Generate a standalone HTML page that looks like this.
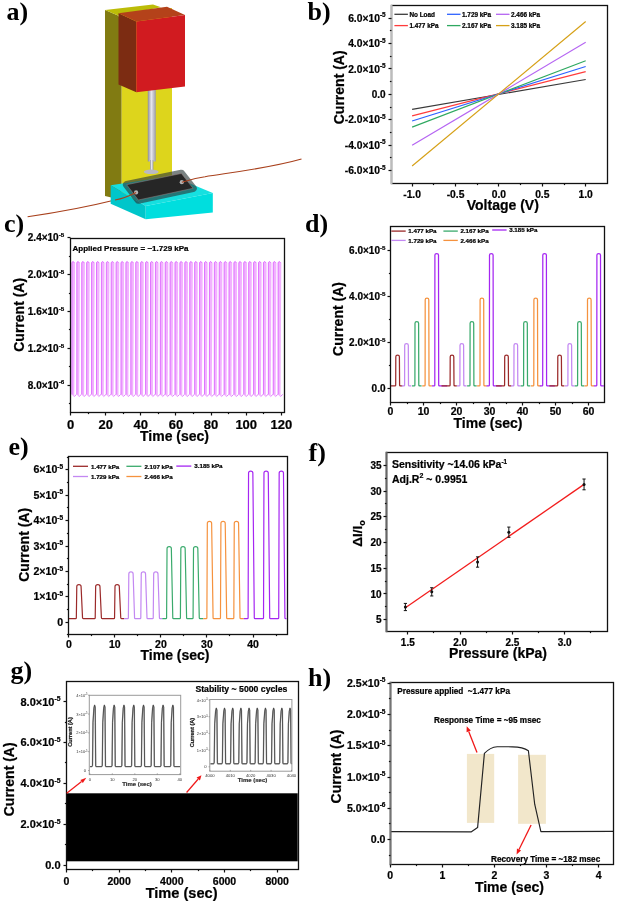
<!DOCTYPE html><html><head><meta charset="utf-8"><title>Figure</title><style>html,body{margin:0;padding:0;background:#fff;}svg{display:block;} text{stroke:currentColor;stroke-width:0.22px;paint-order:stroke;} text.nost{stroke:none;}</style></head><body>
<svg width="617" height="903" viewBox="0 0 617 903">
<rect width="617" height="903" fill="#fff"/>
<text x="6.5" y="20.1" font-size="26" text-anchor="start" font-weight="bold" font-family="'Liberation Serif', 'Times New Roman', serif" fill="#000" color="#000" class="nost">a)</text>
<path d="M27.6,216.8 C60,212 95,205 115,200" fill="none" stroke="#a8401c" stroke-width="1.1"/>
<polygon points="105,10 118,15.6 121.7,20 121.7,200 105,196" fill="#817b12"/>
<polygon points="118,15.6 172,8 172,200 121.7,200 121.7,20" fill="#ddd51c"/>
<polygon points="105,10 153,4.4 161,7.3 118,15.6" fill="#bcbc08"/>
<defs><linearGradient id="rod" x1="0" x2="1" y1="0" y2="0"><stop offset="0" stop-color="#8c8c96"/><stop offset="0.45" stop-color="#e6e6ee"/><stop offset="1" stop-color="#9a9aa4"/></linearGradient></defs>
<rect x="147.8" y="88" width="8" height="73.5" fill="url(#rod)"/>
<rect x="150" y="160" width="3.4" height="11" fill="url(#rod)"/>
<ellipse cx="151.2" cy="171.8" rx="7.4" ry="2.3" fill="#b9b9c2"/>
<polygon points="118.5,13.3 136.3,21.4 136.3,92.2 118.5,84.6" fill="#7c2c12"/>
<polygon points="118.5,13.3 167,6.8 185,14.9 136.3,21.4" fill="#b4421a"/>
<polygon points="136.3,21.4 185,14.9 185,86.5 136.3,92.2" fill="#d11b20"/>
<polygon points="110.7,185.3 172,176 212.8,193 145.7,206" fill="#16e0e0"/>
<polygon points="110.7,185.3 145.7,206 145.7,219.3 110.7,203.8" fill="#00c6ca"/>
<polygon points="145.7,206 212.8,193 212.8,212.5 145.7,219.3" fill="#00dede"/>
<polygon points="126.7,184.7 181.4,173.5 193,188.3 138.3,200" fill="#2c3838" stroke="#2c3838" stroke-width="7.5" stroke-linejoin="round" opacity="0.62"/>
<polygon points="126.7,184.7 181.4,173.5 193,188.3 138.3,200" fill="#262626" stroke="#9a8080" stroke-width="0.5"/>
<circle cx="136.1" cy="192.4" r="2.1" fill="#b4b4b4"/>
<circle cx="181.8" cy="182.2" r="2.1" fill="#b4b4b4"/>
<path d="M136.1,192.4 C131,195 125,198 115,200" fill="none" stroke="#a8401c" stroke-width="1.1"/>
<path d="M181.8,182.2 C188,180 195,178 205,176.7 C235,172 270,168 301.5,159" fill="none" stroke="#a8401c" stroke-width="1.1"/>
<text x="307.5" y="20.2" font-size="26" text-anchor="start" font-weight="bold" font-family="'Liberation Serif', 'Times New Roman', serif" fill="#000" color="#000" class="nost">b)</text>
<line x1="412.1" y1="109.32" x2="585.7" y2="79.5" stroke="#3a3a3a" stroke-width="1.15" />
<line x1="412.1" y1="115.92" x2="585.7" y2="71.63" stroke="#ff3b3b" stroke-width="1.15" />
<line x1="412.1" y1="121" x2="585.7" y2="66.56" stroke="#2e62ff" stroke-width="1.15" />
<line x1="412.1" y1="127.09" x2="585.7" y2="60.72" stroke="#2ea860" stroke-width="1.15" />
<line x1="412.1" y1="145.36" x2="585.7" y2="42.32" stroke="#b565f2" stroke-width="1.15" />
<line x1="412.1" y1="166.05" x2="585.7" y2="21.51" stroke="#d6a016" stroke-width="1.15" />
<rect x="391.5" y="5.5" width="216" height="178" fill="none" stroke="#111" stroke-width="1.3"/>
<line x1="391.5" y1="4.8" x2="391.5" y2="184.2" stroke="#bcbcbc" stroke-width="2" />
<line x1="388.5" y1="170.5" x2="391.5" y2="170.5" stroke="#111" stroke-width="1.2" />
<line x1="388.5" y1="145.5" x2="391.5" y2="145.5" stroke="#111" stroke-width="1.2" />
<line x1="388.5" y1="119.5" x2="391.5" y2="119.5" stroke="#111" stroke-width="1.2" />
<line x1="388.5" y1="94.5" x2="391.5" y2="94.5" stroke="#111" stroke-width="1.2" />
<line x1="388.5" y1="68.5" x2="391.5" y2="68.5" stroke="#111" stroke-width="1.2" />
<line x1="388.5" y1="43.5" x2="391.5" y2="43.5" stroke="#111" stroke-width="1.2" />
<line x1="388.5" y1="18.5" x2="391.5" y2="18.5" stroke="#111" stroke-width="1.2" />
<line x1="389.9" y1="157.5" x2="391.5" y2="157.5" stroke="#111" stroke-width="1.2" />
<line x1="389.9" y1="132.5" x2="391.5" y2="132.5" stroke="#111" stroke-width="1.2" />
<line x1="389.9" y1="107.5" x2="391.5" y2="107.5" stroke="#111" stroke-width="1.2" />
<line x1="389.9" y1="81.5" x2="391.5" y2="81.5" stroke="#111" stroke-width="1.2" />
<line x1="389.9" y1="56.5" x2="391.5" y2="56.5" stroke="#111" stroke-width="1.2" />
<line x1="389.9" y1="30.5" x2="391.5" y2="30.5" stroke="#111" stroke-width="1.2" />
<line x1="412.5" y1="183.5" x2="412.5" y2="186.5" stroke="#111" stroke-width="1.2" />
<line x1="455.5" y1="183.5" x2="455.5" y2="186.5" stroke="#111" stroke-width="1.2" />
<line x1="498.5" y1="183.5" x2="498.5" y2="186.5" stroke="#111" stroke-width="1.2" />
<line x1="542.5" y1="183.5" x2="542.5" y2="186.5" stroke="#111" stroke-width="1.2" />
<line x1="585.5" y1="183.5" x2="585.5" y2="186.5" stroke="#111" stroke-width="1.2" />
<line x1="433.5" y1="183.5" x2="433.5" y2="185.1" stroke="#111" stroke-width="1.2" />
<line x1="477.5" y1="183.5" x2="477.5" y2="185.1" stroke="#111" stroke-width="1.2" />
<line x1="520.5" y1="183.5" x2="520.5" y2="185.1" stroke="#111" stroke-width="1.2" />
<line x1="564.5" y1="183.5" x2="564.5" y2="185.1" stroke="#111" stroke-width="1.2" />
<text x="385.6" y="21.81" font-size="10.3" text-anchor="end" font-weight="bold" font-family="'Liberation Sans', Arial, sans-serif" fill="#000" color="#000">6.0×10<tspan dy="-4.33" font-size="6.39">-5</tspan></text>
<text x="385.6" y="174.09" font-size="10.3" text-anchor="end" font-weight="bold" font-family="'Liberation Sans', Arial, sans-serif" fill="#000" color="#000">-6.0×10<tspan dy="-4.33" font-size="6.39">-5</tspan></text>
<text x="385.6" y="47.19" font-size="10.3" text-anchor="end" font-weight="bold" font-family="'Liberation Sans', Arial, sans-serif" fill="#000" color="#000">4.0×10<tspan dy="-4.33" font-size="6.39">-5</tspan></text>
<text x="385.6" y="148.71" font-size="10.3" text-anchor="end" font-weight="bold" font-family="'Liberation Sans', Arial, sans-serif" fill="#000" color="#000">-4.0×10<tspan dy="-4.33" font-size="6.39">-5</tspan></text>
<text x="385.6" y="72.57" font-size="10.3" text-anchor="end" font-weight="bold" font-family="'Liberation Sans', Arial, sans-serif" fill="#000" color="#000">2.0×10<tspan dy="-4.33" font-size="6.39">-5</tspan></text>
<text x="385.6" y="123.33" font-size="10.3" text-anchor="end" font-weight="bold" font-family="'Liberation Sans', Arial, sans-serif" fill="#000" color="#000">-2.0×10<tspan dy="-4.33" font-size="6.39">-5</tspan></text>
<text x="385.6" y="97.95" font-size="10" text-anchor="end" font-weight="bold" font-family="'Liberation Sans', Arial, sans-serif" fill="#000" color="#000" >0.0</text>
<text x="412.1" y="198" font-size="10.3" text-anchor="middle" font-weight="bold" font-family="'Liberation Sans', Arial, sans-serif" fill="#000" color="#000" >-1.0</text>
<text x="455.5" y="198" font-size="10.3" text-anchor="middle" font-weight="bold" font-family="'Liberation Sans', Arial, sans-serif" fill="#000" color="#000" >-0.5</text>
<text x="498.9" y="198" font-size="10.3" text-anchor="middle" font-weight="bold" font-family="'Liberation Sans', Arial, sans-serif" fill="#000" color="#000" >0.0</text>
<text x="542.3" y="198" font-size="10.3" text-anchor="middle" font-weight="bold" font-family="'Liberation Sans', Arial, sans-serif" fill="#000" color="#000" >0.5</text>
<text x="585.7" y="198" font-size="10.3" text-anchor="middle" font-weight="bold" font-family="'Liberation Sans', Arial, sans-serif" fill="#000" color="#000" >1.0</text>
<text x="502.8" y="210.3" font-size="14" text-anchor="middle" font-weight="bold" font-family="'Liberation Sans', Arial, sans-serif" fill="#000" color="#000" >Voltage (V)</text>
<text x="0" y="0" font-size="14" text-anchor="middle" font-weight="bold" font-family="'Liberation Sans', Arial, sans-serif" transform="translate(344.3,87.3) rotate(-90)" >Current (A)</text>
<line x1="394.4" y1="14.3" x2="407.9" y2="14.3" stroke="#3a3a3a" stroke-width="1.3" />
<text x="409.4" y="16.6" font-size="6.4" text-anchor="start" font-weight="bold" font-family="'Liberation Sans', Arial, sans-serif" fill="#000" color="#000" >No Load</text>
<line x1="447" y1="14.3" x2="460.5" y2="14.3" stroke="#2e62ff" stroke-width="1.3" />
<text x="462" y="16.6" font-size="6.4" text-anchor="start" font-weight="bold" font-family="'Liberation Sans', Arial, sans-serif" fill="#000" color="#000" >1.729 kPa</text>
<line x1="496" y1="14.3" x2="509.5" y2="14.3" stroke="#b565f2" stroke-width="1.3" />
<text x="511" y="16.6" font-size="6.4" text-anchor="start" font-weight="bold" font-family="'Liberation Sans', Arial, sans-serif" fill="#000" color="#000" >2.466 kPa</text>
<line x1="394.4" y1="25.6" x2="407.9" y2="25.6" stroke="#ff3b3b" stroke-width="1.3" />
<text x="409.4" y="27.9" font-size="6.4" text-anchor="start" font-weight="bold" font-family="'Liberation Sans', Arial, sans-serif" fill="#000" color="#000" >1.477 kPa</text>
<line x1="447" y1="25.6" x2="460.5" y2="25.6" stroke="#2ea860" stroke-width="1.3" />
<text x="462" y="27.9" font-size="6.4" text-anchor="start" font-weight="bold" font-family="'Liberation Sans', Arial, sans-serif" fill="#000" color="#000" >2.167 kPa</text>
<line x1="496" y1="25.6" x2="509.5" y2="25.6" stroke="#d6a016" stroke-width="1.3" />
<text x="511" y="27.9" font-size="6.4" text-anchor="start" font-weight="bold" font-family="'Liberation Sans', Arial, sans-serif" fill="#000" color="#000" >3.185 kPa</text>
<text x="4" y="231.8" font-size="26" text-anchor="start" font-weight="bold" font-family="'Liberation Serif', 'Times New Roman', serif" fill="#000" color="#000" class="nost">c)</text>
<polygon points="71.6,394.4 71.6,262.5 73.2,261.2 75.1,262.7 74.3,396.9" fill="#f2b2ff"/>
<polyline points="71.95,394.4 71.95,262.5 73.2,261.5 74.2,262.8" fill="none" stroke="#de6cff" stroke-width="0.9"/>
<polyline points="74.3,396.5 76.51,394.4" fill="none" stroke="#de6cff" stroke-width="0.9"/>
<polygon points="76.51,394.4 76.51,262.5 78.11,261.2 80.01,262.7 79.21,396.9" fill="#f2b2ff"/>
<polyline points="76.86,394.4 76.86,262.5 78.11,261.5 79.11,262.8" fill="none" stroke="#de6cff" stroke-width="0.9"/>
<polyline points="79.21,396.5 81.42,394.4" fill="none" stroke="#de6cff" stroke-width="0.9"/>
<polygon points="81.42,394.4 81.42,262.5 83.02,261.2 84.92,262.7 84.12,396.9" fill="#f2b2ff"/>
<polyline points="81.77,394.4 81.77,262.5 83.02,261.5 84.02,262.8" fill="none" stroke="#de6cff" stroke-width="0.9"/>
<polyline points="84.12,396.5 86.33,394.4" fill="none" stroke="#de6cff" stroke-width="0.9"/>
<polygon points="86.33,394.4 86.33,262.5 87.93,261.2 89.83,262.7 89.03,396.9" fill="#f2b2ff"/>
<polyline points="86.68,394.4 86.68,262.5 87.93,261.5 88.93,262.8" fill="none" stroke="#de6cff" stroke-width="0.9"/>
<polyline points="89.03,396.5 91.24,394.4" fill="none" stroke="#de6cff" stroke-width="0.9"/>
<polygon points="91.24,394.4 91.24,262.5 92.84,261.2 94.74,262.7 93.94,396.9" fill="#f2b2ff"/>
<polyline points="91.59,394.4 91.59,262.5 92.84,261.5 93.84,262.8" fill="none" stroke="#de6cff" stroke-width="0.9"/>
<polyline points="93.94,396.5 96.15,394.4" fill="none" stroke="#de6cff" stroke-width="0.9"/>
<polygon points="96.15,394.4 96.15,262.5 97.75,261.2 99.65,262.7 98.85,396.9" fill="#f2b2ff"/>
<polyline points="96.5,394.4 96.5,262.5 97.75,261.5 98.75,262.8" fill="none" stroke="#de6cff" stroke-width="0.9"/>
<polyline points="98.85,396.5 101.06,394.4" fill="none" stroke="#de6cff" stroke-width="0.9"/>
<polygon points="101.06,394.4 101.06,262.5 102.66,261.2 104.56,262.7 103.76,396.9" fill="#f2b2ff"/>
<polyline points="101.41,394.4 101.41,262.5 102.66,261.5 103.66,262.8" fill="none" stroke="#de6cff" stroke-width="0.9"/>
<polyline points="103.76,396.5 105.97,394.4" fill="none" stroke="#de6cff" stroke-width="0.9"/>
<polygon points="105.97,394.4 105.97,262.5 107.57,261.2 109.47,262.7 108.67,396.9" fill="#f2b2ff"/>
<polyline points="106.32,394.4 106.32,262.5 107.57,261.5 108.57,262.8" fill="none" stroke="#de6cff" stroke-width="0.9"/>
<polyline points="108.67,396.5 110.88,394.4" fill="none" stroke="#de6cff" stroke-width="0.9"/>
<polygon points="110.88,394.4 110.88,262.5 112.48,261.2 114.38,262.7 113.58,396.9" fill="#f2b2ff"/>
<polyline points="111.23,394.4 111.23,262.5 112.48,261.5 113.48,262.8" fill="none" stroke="#de6cff" stroke-width="0.9"/>
<polyline points="113.58,396.5 115.79,394.4" fill="none" stroke="#de6cff" stroke-width="0.9"/>
<polygon points="115.79,394.4 115.79,262.5 117.39,261.2 119.29,262.7 118.49,396.9" fill="#f2b2ff"/>
<polyline points="116.14,394.4 116.14,262.5 117.39,261.5 118.39,262.8" fill="none" stroke="#de6cff" stroke-width="0.9"/>
<polyline points="118.49,396.5 120.7,394.4" fill="none" stroke="#de6cff" stroke-width="0.9"/>
<polygon points="120.7,394.4 120.7,262.5 122.3,261.2 124.2,262.7 123.4,396.9" fill="#f2b2ff"/>
<polyline points="121.05,394.4 121.05,262.5 122.3,261.5 123.3,262.8" fill="none" stroke="#de6cff" stroke-width="0.9"/>
<polyline points="123.4,396.5 125.61,394.4" fill="none" stroke="#de6cff" stroke-width="0.9"/>
<polygon points="125.61,394.4 125.61,262.5 127.21,261.2 129.11,262.7 128.31,396.9" fill="#f2b2ff"/>
<polyline points="125.96,394.4 125.96,262.5 127.21,261.5 128.21,262.8" fill="none" stroke="#de6cff" stroke-width="0.9"/>
<polyline points="128.31,396.5 130.52,394.4" fill="none" stroke="#de6cff" stroke-width="0.9"/>
<polygon points="130.52,394.4 130.52,262.5 132.12,261.2 134.02,262.7 133.22,396.9" fill="#f2b2ff"/>
<polyline points="130.87,394.4 130.87,262.5 132.12,261.5 133.12,262.8" fill="none" stroke="#de6cff" stroke-width="0.9"/>
<polyline points="133.22,396.5 135.43,394.4" fill="none" stroke="#de6cff" stroke-width="0.9"/>
<polygon points="135.43,394.4 135.43,262.5 137.03,261.2 138.93,262.7 138.13,396.9" fill="#f2b2ff"/>
<polyline points="135.78,394.4 135.78,262.5 137.03,261.5 138.03,262.8" fill="none" stroke="#de6cff" stroke-width="0.9"/>
<polyline points="138.13,396.5 140.34,394.4" fill="none" stroke="#de6cff" stroke-width="0.9"/>
<polygon points="140.34,394.4 140.34,262.5 141.94,261.2 143.84,262.7 143.04,396.9" fill="#f2b2ff"/>
<polyline points="140.69,394.4 140.69,262.5 141.94,261.5 142.94,262.8" fill="none" stroke="#de6cff" stroke-width="0.9"/>
<polyline points="143.04,396.5 145.25,394.4" fill="none" stroke="#de6cff" stroke-width="0.9"/>
<polygon points="145.25,394.4 145.25,262.5 146.85,261.2 148.75,262.7 147.95,396.9" fill="#f2b2ff"/>
<polyline points="145.6,394.4 145.6,262.5 146.85,261.5 147.85,262.8" fill="none" stroke="#de6cff" stroke-width="0.9"/>
<polyline points="147.95,396.5 150.16,394.4" fill="none" stroke="#de6cff" stroke-width="0.9"/>
<polygon points="150.16,394.4 150.16,262.5 151.76,261.2 153.66,262.7 152.86,396.9" fill="#f2b2ff"/>
<polyline points="150.51,394.4 150.51,262.5 151.76,261.5 152.76,262.8" fill="none" stroke="#de6cff" stroke-width="0.9"/>
<polyline points="152.86,396.5 155.07,394.4" fill="none" stroke="#de6cff" stroke-width="0.9"/>
<polygon points="155.07,394.4 155.07,262.5 156.67,261.2 158.57,262.7 157.77,396.9" fill="#f2b2ff"/>
<polyline points="155.42,394.4 155.42,262.5 156.67,261.5 157.67,262.8" fill="none" stroke="#de6cff" stroke-width="0.9"/>
<polyline points="157.77,396.5 159.98,394.4" fill="none" stroke="#de6cff" stroke-width="0.9"/>
<polygon points="159.98,394.4 159.98,262.5 161.58,261.2 163.48,262.7 162.68,396.9" fill="#f2b2ff"/>
<polyline points="160.33,394.4 160.33,262.5 161.58,261.5 162.58,262.8" fill="none" stroke="#de6cff" stroke-width="0.9"/>
<polyline points="162.68,396.5 164.89,394.4" fill="none" stroke="#de6cff" stroke-width="0.9"/>
<polygon points="164.89,394.4 164.89,262.5 166.49,261.2 168.39,262.7 167.59,396.9" fill="#f2b2ff"/>
<polyline points="165.24,394.4 165.24,262.5 166.49,261.5 167.49,262.8" fill="none" stroke="#de6cff" stroke-width="0.9"/>
<polyline points="167.59,396.5 169.8,394.4" fill="none" stroke="#de6cff" stroke-width="0.9"/>
<polygon points="169.8,394.4 169.8,262.5 171.4,261.2 173.3,262.7 172.5,396.9" fill="#f2b2ff"/>
<polyline points="170.15,394.4 170.15,262.5 171.4,261.5 172.4,262.8" fill="none" stroke="#de6cff" stroke-width="0.9"/>
<polyline points="172.5,396.5 174.71,394.4" fill="none" stroke="#de6cff" stroke-width="0.9"/>
<polygon points="174.71,394.4 174.71,262.5 176.31,261.2 178.21,262.7 177.41,396.9" fill="#f2b2ff"/>
<polyline points="175.06,394.4 175.06,262.5 176.31,261.5 177.31,262.8" fill="none" stroke="#de6cff" stroke-width="0.9"/>
<polyline points="177.41,396.5 179.62,394.4" fill="none" stroke="#de6cff" stroke-width="0.9"/>
<polygon points="179.62,394.4 179.62,262.5 181.22,261.2 183.12,262.7 182.32,396.9" fill="#f2b2ff"/>
<polyline points="179.97,394.4 179.97,262.5 181.22,261.5 182.22,262.8" fill="none" stroke="#de6cff" stroke-width="0.9"/>
<polyline points="182.32,396.5 184.53,394.4" fill="none" stroke="#de6cff" stroke-width="0.9"/>
<polygon points="184.53,394.4 184.53,262.5 186.13,261.2 188.03,262.7 187.23,396.9" fill="#f2b2ff"/>
<polyline points="184.88,394.4 184.88,262.5 186.13,261.5 187.13,262.8" fill="none" stroke="#de6cff" stroke-width="0.9"/>
<polyline points="187.23,396.5 189.44,394.4" fill="none" stroke="#de6cff" stroke-width="0.9"/>
<polygon points="189.44,394.4 189.44,262.5 191.04,261.2 192.94,262.7 192.14,396.9" fill="#f2b2ff"/>
<polyline points="189.79,394.4 189.79,262.5 191.04,261.5 192.04,262.8" fill="none" stroke="#de6cff" stroke-width="0.9"/>
<polyline points="192.14,396.5 194.35,394.4" fill="none" stroke="#de6cff" stroke-width="0.9"/>
<polygon points="194.35,394.4 194.35,262.5 195.95,261.2 197.85,262.7 197.05,396.9" fill="#f2b2ff"/>
<polyline points="194.7,394.4 194.7,262.5 195.95,261.5 196.95,262.8" fill="none" stroke="#de6cff" stroke-width="0.9"/>
<polyline points="197.05,396.5 199.26,394.4" fill="none" stroke="#de6cff" stroke-width="0.9"/>
<polygon points="199.26,394.4 199.26,262.5 200.86,261.2 202.76,262.7 201.96,396.9" fill="#f2b2ff"/>
<polyline points="199.61,394.4 199.61,262.5 200.86,261.5 201.86,262.8" fill="none" stroke="#de6cff" stroke-width="0.9"/>
<polyline points="201.96,396.5 204.17,394.4" fill="none" stroke="#de6cff" stroke-width="0.9"/>
<polygon points="204.17,394.4 204.17,262.5 205.77,261.2 207.67,262.7 206.87,396.9" fill="#f2b2ff"/>
<polyline points="204.52,394.4 204.52,262.5 205.77,261.5 206.77,262.8" fill="none" stroke="#de6cff" stroke-width="0.9"/>
<polyline points="206.87,396.5 209.08,394.4" fill="none" stroke="#de6cff" stroke-width="0.9"/>
<polygon points="209.08,394.4 209.08,262.5 210.68,261.2 212.58,262.7 211.78,396.9" fill="#f2b2ff"/>
<polyline points="209.43,394.4 209.43,262.5 210.68,261.5 211.68,262.8" fill="none" stroke="#de6cff" stroke-width="0.9"/>
<polyline points="211.78,396.5 213.99,394.4" fill="none" stroke="#de6cff" stroke-width="0.9"/>
<polygon points="213.99,394.4 213.99,262.5 215.59,261.2 217.49,262.7 216.69,396.9" fill="#f2b2ff"/>
<polyline points="214.34,394.4 214.34,262.5 215.59,261.5 216.59,262.8" fill="none" stroke="#de6cff" stroke-width="0.9"/>
<polyline points="216.69,396.5 218.9,394.4" fill="none" stroke="#de6cff" stroke-width="0.9"/>
<polygon points="218.9,394.4 218.9,262.5 220.5,261.2 222.4,262.7 221.6,396.9" fill="#f2b2ff"/>
<polyline points="219.25,394.4 219.25,262.5 220.5,261.5 221.5,262.8" fill="none" stroke="#de6cff" stroke-width="0.9"/>
<polyline points="221.6,396.5 223.81,394.4" fill="none" stroke="#de6cff" stroke-width="0.9"/>
<polygon points="223.81,394.4 223.81,262.5 225.41,261.2 227.31,262.7 226.51,396.9" fill="#f2b2ff"/>
<polyline points="224.16,394.4 224.16,262.5 225.41,261.5 226.41,262.8" fill="none" stroke="#de6cff" stroke-width="0.9"/>
<polyline points="226.51,396.5 228.72,394.4" fill="none" stroke="#de6cff" stroke-width="0.9"/>
<polygon points="228.72,394.4 228.72,262.5 230.32,261.2 232.22,262.7 231.42,396.9" fill="#f2b2ff"/>
<polyline points="229.07,394.4 229.07,262.5 230.32,261.5 231.32,262.8" fill="none" stroke="#de6cff" stroke-width="0.9"/>
<polyline points="231.42,396.5 233.63,394.4" fill="none" stroke="#de6cff" stroke-width="0.9"/>
<polygon points="233.63,394.4 233.63,262.5 235.23,261.2 237.13,262.7 236.33,396.9" fill="#f2b2ff"/>
<polyline points="233.98,394.4 233.98,262.5 235.23,261.5 236.23,262.8" fill="none" stroke="#de6cff" stroke-width="0.9"/>
<polyline points="236.33,396.5 238.54,394.4" fill="none" stroke="#de6cff" stroke-width="0.9"/>
<polygon points="238.54,394.4 238.54,262.5 240.14,261.2 242.04,262.7 241.24,396.9" fill="#f2b2ff"/>
<polyline points="238.89,394.4 238.89,262.5 240.14,261.5 241.14,262.8" fill="none" stroke="#de6cff" stroke-width="0.9"/>
<polyline points="241.24,396.5 243.45,394.4" fill="none" stroke="#de6cff" stroke-width="0.9"/>
<polygon points="243.45,394.4 243.45,262.5 245.05,261.2 246.95,262.7 246.15,396.9" fill="#f2b2ff"/>
<polyline points="243.8,394.4 243.8,262.5 245.05,261.5 246.05,262.8" fill="none" stroke="#de6cff" stroke-width="0.9"/>
<polyline points="246.15,396.5 248.36,394.4" fill="none" stroke="#de6cff" stroke-width="0.9"/>
<polygon points="248.36,394.4 248.36,262.5 249.96,261.2 251.86,262.7 251.06,396.9" fill="#f2b2ff"/>
<polyline points="248.71,394.4 248.71,262.5 249.96,261.5 250.96,262.8" fill="none" stroke="#de6cff" stroke-width="0.9"/>
<polyline points="251.06,396.5 253.27,394.4" fill="none" stroke="#de6cff" stroke-width="0.9"/>
<polygon points="253.27,394.4 253.27,262.5 254.87,261.2 256.77,262.7 255.97,396.9" fill="#f2b2ff"/>
<polyline points="253.62,394.4 253.62,262.5 254.87,261.5 255.87,262.8" fill="none" stroke="#de6cff" stroke-width="0.9"/>
<polyline points="255.97,396.5 258.18,394.4" fill="none" stroke="#de6cff" stroke-width="0.9"/>
<polygon points="258.18,394.4 258.18,262.5 259.78,261.2 261.68,262.7 260.88,396.9" fill="#f2b2ff"/>
<polyline points="258.53,394.4 258.53,262.5 259.78,261.5 260.78,262.8" fill="none" stroke="#de6cff" stroke-width="0.9"/>
<polyline points="260.88,396.5 263.09,394.4" fill="none" stroke="#de6cff" stroke-width="0.9"/>
<polygon points="263.09,394.4 263.09,262.5 264.69,261.2 266.59,262.7 265.79,396.9" fill="#f2b2ff"/>
<polyline points="263.44,394.4 263.44,262.5 264.69,261.5 265.69,262.8" fill="none" stroke="#de6cff" stroke-width="0.9"/>
<polyline points="265.79,396.5 268,394.4" fill="none" stroke="#de6cff" stroke-width="0.9"/>
<polygon points="268,394.4 268,262.5 269.6,261.2 271.5,262.7 270.7,396.9" fill="#f2b2ff"/>
<polyline points="268.35,394.4 268.35,262.5 269.6,261.5 270.6,262.8" fill="none" stroke="#de6cff" stroke-width="0.9"/>
<polyline points="270.7,396.5 272.91,394.4" fill="none" stroke="#de6cff" stroke-width="0.9"/>
<polygon points="272.91,394.4 272.91,262.5 274.51,261.2 276.41,262.7 275.61,396.9" fill="#f2b2ff"/>
<polyline points="273.26,394.4 273.26,262.5 274.51,261.5 275.51,262.8" fill="none" stroke="#de6cff" stroke-width="0.9"/>
<polyline points="275.61,396.5 277.82,394.4" fill="none" stroke="#de6cff" stroke-width="0.9"/>
<polygon points="277.82,394.4 277.82,262.5 279.42,261.2 281.32,262.7 280.52,396.9" fill="#f2b2ff"/>
<polyline points="278.17,394.4 278.17,262.5 279.42,261.5 280.42,262.8" fill="none" stroke="#de6cff" stroke-width="0.9"/>
<polyline points="280.52,396.5 282.73,394.4" fill="none" stroke="#de6cff" stroke-width="0.9"/>
<rect x="70.5" y="238.5" width="214" height="174" fill="none" stroke="#111" stroke-width="1.3"/>
<line x1="67.5" y1="385.5" x2="70.5" y2="385.5" stroke="#111" stroke-width="1.2" />
<line x1="67.5" y1="348.5" x2="70.5" y2="348.5" stroke="#111" stroke-width="1.2" />
<line x1="67.5" y1="311.5" x2="70.5" y2="311.5" stroke="#111" stroke-width="1.2" />
<line x1="67.5" y1="274.5" x2="70.5" y2="274.5" stroke="#111" stroke-width="1.2" />
<line x1="67.5" y1="237.5" x2="70.5" y2="237.5" stroke="#111" stroke-width="1.2" />
<line x1="68.9" y1="403.5" x2="70.5" y2="403.5" stroke="#111" stroke-width="1.2" />
<line x1="68.9" y1="366.5" x2="70.5" y2="366.5" stroke="#111" stroke-width="1.2" />
<line x1="68.9" y1="329.5" x2="70.5" y2="329.5" stroke="#111" stroke-width="1.2" />
<line x1="68.9" y1="293.5" x2="70.5" y2="293.5" stroke="#111" stroke-width="1.2" />
<line x1="68.9" y1="256.5" x2="70.5" y2="256.5" stroke="#111" stroke-width="1.2" />
<line x1="70.5" y1="412.5" x2="70.5" y2="415.5" stroke="#111" stroke-width="1.2" />
<line x1="105.5" y1="412.5" x2="105.5" y2="415.5" stroke="#111" stroke-width="1.2" />
<line x1="140.5" y1="412.5" x2="140.5" y2="415.5" stroke="#111" stroke-width="1.2" />
<line x1="175.5" y1="412.5" x2="175.5" y2="415.5" stroke="#111" stroke-width="1.2" />
<line x1="211.5" y1="412.5" x2="211.5" y2="415.5" stroke="#111" stroke-width="1.2" />
<line x1="246.5" y1="412.5" x2="246.5" y2="415.5" stroke="#111" stroke-width="1.2" />
<line x1="281.5" y1="412.5" x2="281.5" y2="415.5" stroke="#111" stroke-width="1.2" />
<line x1="88.5" y1="412.5" x2="88.5" y2="414.1" stroke="#111" stroke-width="1.2" />
<line x1="123.5" y1="412.5" x2="123.5" y2="414.1" stroke="#111" stroke-width="1.2" />
<line x1="158.5" y1="412.5" x2="158.5" y2="414.1" stroke="#111" stroke-width="1.2" />
<line x1="193.5" y1="412.5" x2="193.5" y2="414.1" stroke="#111" stroke-width="1.2" />
<line x1="228.5" y1="412.5" x2="228.5" y2="414.1" stroke="#111" stroke-width="1.2" />
<line x1="263.5" y1="412.5" x2="263.5" y2="414.1" stroke="#111" stroke-width="1.2" />
<text x="64.2" y="241.4" font-size="10" text-anchor="end" font-weight="bold" font-family="'Liberation Sans', Arial, sans-serif" fill="#000" color="#000">2.4×10<tspan dy="-4.2" font-size="6.2">-5</tspan></text>
<text x="64.2" y="278.2" font-size="10" text-anchor="end" font-weight="bold" font-family="'Liberation Sans', Arial, sans-serif" fill="#000" color="#000">2.0×10<tspan dy="-4.2" font-size="6.2">-5</tspan></text>
<text x="64.2" y="315" font-size="10" text-anchor="end" font-weight="bold" font-family="'Liberation Sans', Arial, sans-serif" fill="#000" color="#000">1.6×10<tspan dy="-4.2" font-size="6.2">-5</tspan></text>
<text x="64.2" y="351.8" font-size="10" text-anchor="end" font-weight="bold" font-family="'Liberation Sans', Arial, sans-serif" fill="#000" color="#000">1.2×10<tspan dy="-4.2" font-size="6.2">-5</tspan></text>
<text x="64.2" y="388.6" font-size="10" text-anchor="end" font-weight="bold" font-family="'Liberation Sans', Arial, sans-serif" fill="#000" color="#000">8.0×10<tspan dy="-4.2" font-size="6.2">-6</tspan></text>
<text x="70.5" y="429.3" font-size="13" text-anchor="middle" font-weight="bold" font-family="'Liberation Sans', Arial, sans-serif" fill="#000" color="#000" >0</text>
<text x="105.65" y="429.3" font-size="13" text-anchor="middle" font-weight="bold" font-family="'Liberation Sans', Arial, sans-serif" fill="#000" color="#000" >20</text>
<text x="140.8" y="429.3" font-size="13" text-anchor="middle" font-weight="bold" font-family="'Liberation Sans', Arial, sans-serif" fill="#000" color="#000" >40</text>
<text x="175.95" y="429.3" font-size="13" text-anchor="middle" font-weight="bold" font-family="'Liberation Sans', Arial, sans-serif" fill="#000" color="#000" >60</text>
<text x="211.1" y="429.3" font-size="13" text-anchor="middle" font-weight="bold" font-family="'Liberation Sans', Arial, sans-serif" fill="#000" color="#000" >80</text>
<text x="246.25" y="429.3" font-size="13" text-anchor="middle" font-weight="bold" font-family="'Liberation Sans', Arial, sans-serif" fill="#000" color="#000" >100</text>
<text x="281.4" y="429.3" font-size="13" text-anchor="middle" font-weight="bold" font-family="'Liberation Sans', Arial, sans-serif" fill="#000" color="#000" >120</text>
<text x="174.5" y="440.5" font-size="14" text-anchor="middle" font-weight="bold" font-family="'Liberation Sans', Arial, sans-serif" fill="#000" color="#000" >Time (sec)</text>
<text x="0" y="0" font-size="14" text-anchor="middle" font-weight="bold" font-family="'Liberation Sans', Arial, sans-serif" transform="translate(23.5,314.8) rotate(-90)" >Current (A)</text>
<text x="72.5" y="250.5" font-size="8" text-anchor="start" font-weight="bold" font-family="'Liberation Sans', Arial, sans-serif" fill="#000" color="#000" >Applied Pressure = ~1.729 kPa</text>
<text x="305" y="232" font-size="26" text-anchor="start" font-weight="bold" font-family="'Liberation Serif', 'Times New Roman', serif" fill="#000" color="#000" class="nost">d)</text>
<path d="M390.8,385.93 L394.95,385.93 Q395.65,385.93 395.7,385.13 L395.8,356.7 C395.8,354.75 399.4,354.75 399.4,356.7 L399.6,385.13 Q399.65,385.93 400.35,385.93 L402.4,385.93" fill="none" stroke="#9b2a2a" stroke-width="1.25" stroke-linejoin="round"/>
<path d="M401.7,385.93 L403.85,385.93 Q404.55,385.93 404.6,385.13 L404.7,345.15 C404.7,343.2 408.3,343.2 408.3,345.15 L408.5,385.13 Q408.55,385.93 409.25,385.93 L411.3,385.93" fill="none" stroke="#c388f2" stroke-width="1.25" stroke-linejoin="round"/>
<path d="M412,385.93 L414.15,385.93 Q414.85,385.93 414.9,385.13 L415,323.21 C415,321.26 418.6,321.26 418.6,323.21 L418.8,385.13 Q418.85,385.93 419.55,385.93 L421.6,385.93" fill="none" stroke="#3aaa6c" stroke-width="1.25" stroke-linejoin="round"/>
<path d="M422.2,385.93 L424.35,385.93 Q425.05,385.93 425.1,385.13 L425.2,299.65 C425.2,297.7 428.8,297.7 428.8,299.65 L429,385.13 Q429.05,385.93 429.75,385.93 L431.8,385.93" fill="none" stroke="#f5923e" stroke-width="1.25" stroke-linejoin="round"/>
<path d="M431.9,385.93 L434.05,385.93 Q434.75,385.93 434.8,385.13 L434.9,255.06 C434.9,253.12 438.5,253.12 438.5,255.06 L438.7,385.13 Q438.75,385.93 439.45,385.93 L447.2,385.93" fill="none" stroke="#a526f2" stroke-width="1.25" stroke-linejoin="round"/>
<path d="M441.5,385.93 L449.35,385.93 Q450.05,385.93 450.1,385.13 L450.2,356.7 C450.2,354.75 453.8,354.75 453.8,356.7 L454,385.13 Q454.05,385.93 454.75,385.93 L456.8,385.93" fill="none" stroke="#9b2a2a" stroke-width="1.25" stroke-linejoin="round"/>
<path d="M457,385.93 L459.15,385.93 Q459.85,385.93 459.9,385.13 L460,345.15 C460,343.2 463.6,343.2 463.6,345.15 L463.8,385.13 Q463.85,385.93 464.55,385.93 L466.6,385.93" fill="none" stroke="#c388f2" stroke-width="1.25" stroke-linejoin="round"/>
<path d="M467.1,385.93 L469.25,385.93 Q469.95,385.93 470,385.13 L470.1,323.21 C470.1,321.26 473.7,321.26 473.7,323.21 L473.9,385.13 Q473.95,385.93 474.65,385.93 L476.7,385.93" fill="none" stroke="#3aaa6c" stroke-width="1.25" stroke-linejoin="round"/>
<path d="M477.1,385.93 L479.25,385.93 Q479.95,385.93 480,385.13 L480.1,299.65 C480.1,297.7 483.7,297.7 483.7,299.65 L483.9,385.13 Q483.95,385.93 484.65,385.93 L486.7,385.93" fill="none" stroke="#f5923e" stroke-width="1.25" stroke-linejoin="round"/>
<path d="M486.5,385.93 L488.65,385.93 Q489.35,385.93 489.4,385.13 L489.5,255.06 C489.5,253.12 493.1,253.12 493.1,255.06 L493.3,385.13 Q493.35,385.93 494.05,385.93 L501.7,385.93" fill="none" stroke="#a526f2" stroke-width="1.25" stroke-linejoin="round"/>
<path d="M496.1,385.93 L503.85,385.93 Q504.55,385.93 504.6,385.13 L504.7,356.7 C504.7,354.75 508.3,354.75 508.3,356.7 L508.5,385.13 Q508.55,385.93 509.25,385.93 L511.3,385.93" fill="none" stroke="#9b2a2a" stroke-width="1.25" stroke-linejoin="round"/>
<path d="M511,385.93 L513.15,385.93 Q513.85,385.93 513.9,385.13 L514,345.15 C514,343.2 517.6,343.2 517.6,345.15 L517.8,385.13 Q517.85,385.93 518.55,385.93 L520.6,385.93" fill="none" stroke="#c388f2" stroke-width="1.25" stroke-linejoin="round"/>
<path d="M520.7,385.93 L522.85,385.93 Q523.55,385.93 523.6,385.13 L523.7,323.21 C523.7,321.26 527.3,321.26 527.3,323.21 L527.5,385.13 Q527.55,385.93 528.25,385.93 L530.3,385.93" fill="none" stroke="#3aaa6c" stroke-width="1.25" stroke-linejoin="round"/>
<path d="M530.9,385.93 L533.05,385.93 Q533.75,385.93 533.8,385.13 L533.9,299.65 C533.9,297.7 537.5,297.7 537.5,299.65 L537.7,385.13 Q537.75,385.93 538.45,385.93 L540.5,385.93" fill="none" stroke="#f5923e" stroke-width="1.25" stroke-linejoin="round"/>
<path d="M539.8,385.93 L541.95,385.93 Q542.65,385.93 542.7,385.13 L542.8,255.06 C542.8,253.12 546.4,253.12 546.4,255.06 L546.6,385.13 Q546.65,385.93 547.35,385.93 L554.8,385.93" fill="none" stroke="#a526f2" stroke-width="1.25" stroke-linejoin="round"/>
<path d="M549.4,385.93 L556.95,385.93 Q557.65,385.93 557.7,385.13 L557.8,356.7 C557.8,354.75 561.4,354.75 561.4,356.7 L561.6,385.13 Q561.65,385.93 562.35,385.93 L564.4,385.93" fill="none" stroke="#9b2a2a" stroke-width="1.25" stroke-linejoin="round"/>
<path d="M565,385.93 L567.15,385.93 Q567.85,385.93 567.9,385.13 L568,345.15 C568,343.2 571.6,343.2 571.6,345.15 L571.8,385.13 Q571.85,385.93 572.55,385.93 L574.6,385.93" fill="none" stroke="#c388f2" stroke-width="1.25" stroke-linejoin="round"/>
<path d="M574.7,385.93 L576.85,385.93 Q577.55,385.93 577.6,385.13 L577.7,323.21 C577.7,321.26 581.3,321.26 581.3,323.21 L581.5,385.13 Q581.55,385.93 582.25,385.93 L584.3,385.93" fill="none" stroke="#3aaa6c" stroke-width="1.25" stroke-linejoin="round"/>
<path d="M584.5,385.93 L586.65,385.93 Q587.35,385.93 587.4,385.13 L587.5,299.65 C587.5,297.7 591.1,297.7 591.1,299.65 L591.3,385.13 Q591.35,385.93 592.05,385.93 L594.1,385.93" fill="none" stroke="#f5923e" stroke-width="1.25" stroke-linejoin="round"/>
<path d="M593.9,385.93 L596.05,385.93 Q596.75,385.93 596.8,385.13 L596.9,255.06 C596.9,253.12 600.5,253.12 600.5,255.06 L600.7,385.13 Q600.75,385.93 601.45,385.93 L603.8,385.93" fill="none" stroke="#a526f2" stroke-width="1.25" stroke-linejoin="round"/>
<rect x="390.5" y="226.5" width="214" height="176" fill="none" stroke="#111" stroke-width="1.3"/>
<line x1="387.5" y1="388.5" x2="390.5" y2="388.5" stroke="#111" stroke-width="1.2" />
<line x1="387.5" y1="342.5" x2="390.5" y2="342.5" stroke="#111" stroke-width="1.2" />
<line x1="387.5" y1="296.5" x2="390.5" y2="296.5" stroke="#111" stroke-width="1.2" />
<line x1="387.5" y1="250.5" x2="390.5" y2="250.5" stroke="#111" stroke-width="1.2" />
<line x1="388.9" y1="365.5" x2="390.5" y2="365.5" stroke="#111" stroke-width="1.2" />
<line x1="388.9" y1="319.5" x2="390.5" y2="319.5" stroke="#111" stroke-width="1.2" />
<line x1="388.9" y1="273.5" x2="390.5" y2="273.5" stroke="#111" stroke-width="1.2" />
<line x1="390.5" y1="402.5" x2="390.5" y2="405.5" stroke="#111" stroke-width="1.2" />
<line x1="423.5" y1="402.5" x2="423.5" y2="405.5" stroke="#111" stroke-width="1.2" />
<line x1="456.5" y1="402.5" x2="456.5" y2="405.5" stroke="#111" stroke-width="1.2" />
<line x1="489.5" y1="402.5" x2="489.5" y2="405.5" stroke="#111" stroke-width="1.2" />
<line x1="522.5" y1="402.5" x2="522.5" y2="405.5" stroke="#111" stroke-width="1.2" />
<line x1="555.5" y1="402.5" x2="555.5" y2="405.5" stroke="#111" stroke-width="1.2" />
<line x1="588.5" y1="402.5" x2="588.5" y2="405.5" stroke="#111" stroke-width="1.2" />
<line x1="407.5" y1="402.5" x2="407.5" y2="404.1" stroke="#111" stroke-width="1.2" />
<line x1="440.5" y1="402.5" x2="440.5" y2="404.1" stroke="#111" stroke-width="1.2" />
<line x1="473.5" y1="402.5" x2="473.5" y2="404.1" stroke="#111" stroke-width="1.2" />
<line x1="506.5" y1="402.5" x2="506.5" y2="404.1" stroke="#111" stroke-width="1.2" />
<line x1="539.5" y1="402.5" x2="539.5" y2="404.1" stroke="#111" stroke-width="1.2" />
<line x1="572.5" y1="402.5" x2="572.5" y2="404.1" stroke="#111" stroke-width="1.2" />
<text x="385.5" y="253.7" font-size="10" text-anchor="end" font-weight="bold" font-family="'Liberation Sans', Arial, sans-serif" fill="#000" color="#000">6.0×10<tspan dy="-4.2" font-size="6.2">-5</tspan></text>
<text x="385.5" y="299.9" font-size="10" text-anchor="end" font-weight="bold" font-family="'Liberation Sans', Arial, sans-serif" fill="#000" color="#000">4.0×10<tspan dy="-4.2" font-size="6.2">-5</tspan></text>
<text x="385.5" y="346.1" font-size="10" text-anchor="end" font-weight="bold" font-family="'Liberation Sans', Arial, sans-serif" fill="#000" color="#000">2.0×10<tspan dy="-4.2" font-size="6.2">-5</tspan></text>
<text x="385.5" y="392.3" font-size="10" text-anchor="end" font-weight="bold" font-family="'Liberation Sans', Arial, sans-serif" fill="#000" color="#000" >0.0</text>
<text x="390.5" y="415" font-size="10.5" text-anchor="middle" font-weight="bold" font-family="'Liberation Sans', Arial, sans-serif" fill="#000" color="#000" >0</text>
<text x="423.5" y="415" font-size="10.5" text-anchor="middle" font-weight="bold" font-family="'Liberation Sans', Arial, sans-serif" fill="#000" color="#000" >10</text>
<text x="456.5" y="415" font-size="10.5" text-anchor="middle" font-weight="bold" font-family="'Liberation Sans', Arial, sans-serif" fill="#000" color="#000" >20</text>
<text x="489.5" y="415" font-size="10.5" text-anchor="middle" font-weight="bold" font-family="'Liberation Sans', Arial, sans-serif" fill="#000" color="#000" >30</text>
<text x="522.5" y="415" font-size="10.5" text-anchor="middle" font-weight="bold" font-family="'Liberation Sans', Arial, sans-serif" fill="#000" color="#000" >40</text>
<text x="555.5" y="415" font-size="10.5" text-anchor="middle" font-weight="bold" font-family="'Liberation Sans', Arial, sans-serif" fill="#000" color="#000" >50</text>
<text x="588.5" y="415" font-size="10.5" text-anchor="middle" font-weight="bold" font-family="'Liberation Sans', Arial, sans-serif" fill="#000" color="#000" >60</text>
<text x="488" y="428" font-size="14" text-anchor="middle" font-weight="bold" font-family="'Liberation Sans', Arial, sans-serif" fill="#000" color="#000" >Time (sec)</text>
<text x="0" y="0" font-size="14" text-anchor="middle" font-weight="bold" font-family="'Liberation Sans', Arial, sans-serif" transform="translate(343.3,319) rotate(-90)" >Current (A)</text>
<line x1="391.3" y1="231.1" x2="405.7" y2="231.1" stroke="#9b2a2a" stroke-width="1.3" />
<text x="408.3" y="233.3" font-size="6.2" text-anchor="start" font-weight="bold" font-family="'Liberation Sans', Arial, sans-serif" fill="#000" color="#000" >1.477 kPa</text>
<line x1="391.3" y1="240.4" x2="405.7" y2="240.4" stroke="#c388f2" stroke-width="1.3" />
<text x="408.3" y="242.6" font-size="6.2" text-anchor="start" font-weight="bold" font-family="'Liberation Sans', Arial, sans-serif" fill="#000" color="#000" >1.729 kPa</text>
<line x1="443.4" y1="231.1" x2="457.8" y2="231.1" stroke="#3aaa6c" stroke-width="1.3" />
<text x="460.4" y="233.3" font-size="6.2" text-anchor="start" font-weight="bold" font-family="'Liberation Sans', Arial, sans-serif" fill="#000" color="#000" >2.167 kPa</text>
<line x1="443.4" y1="240.4" x2="457.8" y2="240.4" stroke="#f5923e" stroke-width="1.3" />
<text x="460.4" y="242.6" font-size="6.2" text-anchor="start" font-weight="bold" font-family="'Liberation Sans', Arial, sans-serif" fill="#000" color="#000" >2.466 kPa</text>
<line x1="492.2" y1="230" x2="506.6" y2="230" stroke="#a526f2" stroke-width="1.3" />
<text x="509.2" y="232.2" font-size="6.2" text-anchor="start" font-weight="bold" font-family="'Liberation Sans', Arial, sans-serif" fill="#000" color="#000" >3.185 kPa</text>
<text x="8.5" y="455.1" font-size="26" text-anchor="start" font-weight="bold" font-family="'Liberation Serif', 'Times New Roman', serif" fill="#000" color="#000" class="nost">e)</text>
<path d="M68.8,618.64 L75.58,618.64 Q76.28,618.64 76.33,617.84 L76.78,586.61 C76.78,584.01 81.08,584.01 81.08,586.61 L82.53,617.84 Q82.58,618.64 83.28,618.64 L94.46,618.64 Q95.16,618.64 95.21,617.84 L95.66,586.61 C95.66,584.01 99.96,584.01 99.96,586.61 L101.41,617.84 Q101.46,618.64 102.16,618.64 L113.8,618.64 Q114.5,618.64 114.55,617.84 L115,586.61 C115,584.01 119.3,584.01 119.3,586.61 L120.75,617.84 Q120.8,618.64 121.5,618.64 L124.06,618.64" fill="none" stroke="#9b2a2a" stroke-width="1.2" stroke-linejoin="round"/>
<path d="M124.06,618.64 L127.62,618.64 Q128.32,618.64 128.37,617.84 L128.82,573.91 C128.82,571.31 133.12,571.31 133.12,573.91 L134.57,617.84 Q134.62,618.64 135.32,618.64 L140.05,618.64 Q140.75,618.64 140.8,617.84 L141.25,573.91 C141.25,571.31 145.55,571.31 145.55,573.91 L147,617.84 Q147.05,618.64 147.75,618.64 L152.48,618.64 Q153.18,618.64 153.23,617.84 L153.68,573.91 C153.68,571.31 157.98,571.31 157.98,573.91 L159.43,617.84 Q159.48,618.64 160.18,618.64 L162.28,618.64" fill="none" stroke="#c388f2" stroke-width="1.2" stroke-linejoin="round"/>
<path d="M162.28,618.64 L165.84,618.64 Q166.54,618.64 166.59,617.84 L167.04,548.51 C167.04,545.91 171.34,545.91 171.34,548.51 L172.79,617.84 Q172.84,618.64 173.54,618.64 L179.65,618.64 Q180.35,618.64 180.4,617.84 L180.85,548.51 C180.85,545.91 185.15,545.91 185.15,548.51 L186.6,617.84 Q186.65,618.64 187.35,618.64 L192.32,618.64 Q193.02,618.64 193.07,617.84 L193.52,548.51 C193.52,545.91 197.82,545.91 197.82,548.51 L199.27,617.84 Q199.32,618.64 200.02,618.64 L203.27,618.64" fill="none" stroke="#3aaa6c" stroke-width="1.2" stroke-linejoin="round"/>
<path d="M203.27,618.64 L206.13,618.64 Q206.83,618.64 206.88,617.84 L207.33,523.36 C207.33,520.76 211.63,520.76 211.63,523.36 L213.08,617.84 Q213.13,618.64 213.83,618.64 L219.72,618.64 Q220.42,618.64 220.47,617.84 L220.92,523.36 C220.92,520.76 225.22,520.76 225.22,523.36 L226.67,617.84 Q226.72,618.64 227.42,618.64 L233.07,618.64 Q233.77,618.64 233.82,617.84 L234.27,523.36 C234.27,520.76 238.57,520.76 238.57,523.36 L240.02,617.84 Q240.07,618.64 240.77,618.64 L243.79,618.64" fill="none" stroke="#f5923e" stroke-width="1.2" stroke-linejoin="round"/>
<path d="M243.79,618.64 L247.35,618.64 Q248.05,618.64 248.1,617.84 L248.55,473.07 C248.55,470.47 252.85,470.47 252.85,473.07 L254.3,617.84 Q254.35,618.64 255.05,618.64 L262.77,618.64 Q263.47,618.64 263.52,617.84 L263.97,473.07 C263.97,470.47 268.27,470.47 268.27,473.07 L269.72,617.84 Q269.77,618.64 270.47,618.64 L277.97,618.64 Q278.67,618.64 278.72,617.84 L279.17,473.07 C279.17,470.47 283.47,470.47 283.47,473.07 L284.92,617.84 Q284.97,618.64 285.67,618.64 L286.4,618.64" fill="none" stroke="#a526f2" stroke-width="1.2" stroke-linejoin="round"/>
<rect x="68.5" y="456.5" width="219" height="178" fill="none" stroke="#111" stroke-width="1.3"/>
<line x1="65.5" y1="622.5" x2="68.5" y2="622.5" stroke="#111" stroke-width="1.2" />
<line x1="65.5" y1="596.5" x2="68.5" y2="596.5" stroke="#111" stroke-width="1.2" />
<line x1="65.5" y1="571.5" x2="68.5" y2="571.5" stroke="#111" stroke-width="1.2" />
<line x1="65.5" y1="546.5" x2="68.5" y2="546.5" stroke="#111" stroke-width="1.2" />
<line x1="65.5" y1="520.5" x2="68.5" y2="520.5" stroke="#111" stroke-width="1.2" />
<line x1="65.5" y1="495.5" x2="68.5" y2="495.5" stroke="#111" stroke-width="1.2" />
<line x1="65.5" y1="469.5" x2="68.5" y2="469.5" stroke="#111" stroke-width="1.2" />
<line x1="66.9" y1="634.5" x2="68.5" y2="634.5" stroke="#111" stroke-width="1.2" />
<line x1="66.9" y1="609.5" x2="68.5" y2="609.5" stroke="#111" stroke-width="1.2" />
<line x1="66.9" y1="584.5" x2="68.5" y2="584.5" stroke="#111" stroke-width="1.2" />
<line x1="66.9" y1="558.5" x2="68.5" y2="558.5" stroke="#111" stroke-width="1.2" />
<line x1="66.9" y1="533.5" x2="68.5" y2="533.5" stroke="#111" stroke-width="1.2" />
<line x1="66.9" y1="507.5" x2="68.5" y2="507.5" stroke="#111" stroke-width="1.2" />
<line x1="66.9" y1="482.5" x2="68.5" y2="482.5" stroke="#111" stroke-width="1.2" />
<line x1="66.9" y1="457.5" x2="68.5" y2="457.5" stroke="#111" stroke-width="1.2" />
<line x1="68.5" y1="634.5" x2="68.5" y2="637.5" stroke="#111" stroke-width="1.2" />
<line x1="114.5" y1="634.5" x2="114.5" y2="637.5" stroke="#111" stroke-width="1.2" />
<line x1="160.5" y1="634.5" x2="160.5" y2="637.5" stroke="#111" stroke-width="1.2" />
<line x1="206.5" y1="634.5" x2="206.5" y2="637.5" stroke="#111" stroke-width="1.2" />
<line x1="253.5" y1="634.5" x2="253.5" y2="637.5" stroke="#111" stroke-width="1.2" />
<line x1="91.5" y1="634.5" x2="91.5" y2="636.1" stroke="#111" stroke-width="1.2" />
<line x1="137.5" y1="634.5" x2="137.5" y2="636.1" stroke="#111" stroke-width="1.2" />
<line x1="183.5" y1="634.5" x2="183.5" y2="636.1" stroke="#111" stroke-width="1.2" />
<line x1="229.5" y1="634.5" x2="229.5" y2="636.1" stroke="#111" stroke-width="1.2" />
<line x1="276.5" y1="634.5" x2="276.5" y2="636.1" stroke="#111" stroke-width="1.2" />
<text x="63.2" y="473.4" font-size="10.6" text-anchor="end" font-weight="bold" font-family="'Liberation Sans', Arial, sans-serif" fill="#000" color="#000">6×10<tspan dy="-4.45" font-size="6.57">-5</tspan></text>
<text x="63.2" y="498.8" font-size="10.6" text-anchor="end" font-weight="bold" font-family="'Liberation Sans', Arial, sans-serif" fill="#000" color="#000">5×10<tspan dy="-4.45" font-size="6.57">-5</tspan></text>
<text x="63.2" y="524.2" font-size="10.6" text-anchor="end" font-weight="bold" font-family="'Liberation Sans', Arial, sans-serif" fill="#000" color="#000">4×10<tspan dy="-4.45" font-size="6.57">-5</tspan></text>
<text x="63.2" y="549.6" font-size="10.6" text-anchor="end" font-weight="bold" font-family="'Liberation Sans', Arial, sans-serif" fill="#000" color="#000">3×10<tspan dy="-4.45" font-size="6.57">-5</tspan></text>
<text x="63.2" y="575" font-size="10.6" text-anchor="end" font-weight="bold" font-family="'Liberation Sans', Arial, sans-serif" fill="#000" color="#000">2×10<tspan dy="-4.45" font-size="6.57">-5</tspan></text>
<text x="63.2" y="600.4" font-size="10.6" text-anchor="end" font-weight="bold" font-family="'Liberation Sans', Arial, sans-serif" fill="#000" color="#000">1×10<tspan dy="-4.45" font-size="6.57">-5</tspan></text>
<text x="63.2" y="625.9" font-size="10.6" text-anchor="end" font-weight="bold" font-family="'Liberation Sans', Arial, sans-serif" fill="#000" color="#000" >0</text>
<text x="68.8" y="648" font-size="10.5" text-anchor="middle" font-weight="bold" font-family="'Liberation Sans', Arial, sans-serif" fill="#000" color="#000" >0</text>
<text x="114.85" y="648" font-size="10.5" text-anchor="middle" font-weight="bold" font-family="'Liberation Sans', Arial, sans-serif" fill="#000" color="#000" >10</text>
<text x="160.9" y="648" font-size="10.5" text-anchor="middle" font-weight="bold" font-family="'Liberation Sans', Arial, sans-serif" fill="#000" color="#000" >20</text>
<text x="206.95" y="648" font-size="10.5" text-anchor="middle" font-weight="bold" font-family="'Liberation Sans', Arial, sans-serif" fill="#000" color="#000" >30</text>
<text x="253" y="648" font-size="10.5" text-anchor="middle" font-weight="bold" font-family="'Liberation Sans', Arial, sans-serif" fill="#000" color="#000" >40</text>
<text x="175" y="659.7" font-size="14" text-anchor="middle" font-weight="bold" font-family="'Liberation Sans', Arial, sans-serif" fill="#000" color="#000" >Time (sec)</text>
<text x="0" y="0" font-size="14" text-anchor="middle" font-weight="bold" font-family="'Liberation Sans', Arial, sans-serif" transform="translate(29,544.8) rotate(-90)" >Current (A)</text>
<line x1="73" y1="466.3" x2="88" y2="466.3" stroke="#9b2a2a" stroke-width="1.3" />
<text x="91" y="468.5" font-size="6.2" text-anchor="start" font-weight="bold" font-family="'Liberation Sans', Arial, sans-serif" fill="#000" color="#000" >1.477 kPa</text>
<line x1="73" y1="476.5" x2="88" y2="476.5" stroke="#c388f2" stroke-width="1.3" />
<text x="91" y="478.7" font-size="6.2" text-anchor="start" font-weight="bold" font-family="'Liberation Sans', Arial, sans-serif" fill="#000" color="#000" >1.729 kPa</text>
<line x1="126.4" y1="466.3" x2="141.4" y2="466.3" stroke="#3aaa6c" stroke-width="1.3" />
<text x="144.4" y="468.5" font-size="6.2" text-anchor="start" font-weight="bold" font-family="'Liberation Sans', Arial, sans-serif" fill="#000" color="#000" >2.107 kPa</text>
<line x1="126.4" y1="476.5" x2="141.4" y2="476.5" stroke="#f5923e" stroke-width="1.3" />
<text x="144.4" y="478.7" font-size="6.2" text-anchor="start" font-weight="bold" font-family="'Liberation Sans', Arial, sans-serif" fill="#000" color="#000" >2.466 kPa</text>
<line x1="176.3" y1="466.1" x2="191.3" y2="466.1" stroke="#a526f2" stroke-width="1.3" />
<text x="194.3" y="468.3" font-size="6.2" text-anchor="start" font-weight="bold" font-family="'Liberation Sans', Arial, sans-serif" fill="#000" color="#000" >3.185 kPa</text>
<text x="308.5" y="460.8" font-size="26" text-anchor="start" font-weight="bold" font-family="'Liberation Serif', 'Times New Roman', serif" fill="#000" color="#000" class="nost">f)</text>
<line x1="405.39" y1="607.8" x2="584.05" y2="484.36" stroke="#f21c1c" stroke-width="1.3" />
<line x1="405.39" y1="603.41" x2="405.39" y2="610.6" stroke="#111" stroke-width="1" />
<line x1="403.79" y1="603.41" x2="406.99" y2="603.41" stroke="#111" stroke-width="1" />
<line x1="403.79" y1="610.6" x2="406.99" y2="610.6" stroke="#111" stroke-width="1" />
<circle cx="405.39" cy="607.01" r="1.5" fill="#111"/>
<line x1="431.75" y1="587.73" x2="431.75" y2="595.96" stroke="#111" stroke-width="1" />
<line x1="430.15" y1="587.73" x2="433.35" y2="587.73" stroke="#111" stroke-width="1" />
<line x1="430.15" y1="595.96" x2="433.35" y2="595.96" stroke="#111" stroke-width="1" />
<circle cx="431.75" cy="591.84" r="1.5" fill="#111"/>
<line x1="477.57" y1="556.89" x2="477.57" y2="567.17" stroke="#111" stroke-width="1" />
<line x1="475.97" y1="556.89" x2="479.17" y2="556.89" stroke="#111" stroke-width="1" />
<line x1="475.97" y1="567.17" x2="479.17" y2="567.17" stroke="#111" stroke-width="1" />
<circle cx="477.57" cy="562.03" r="1.5" fill="#111"/>
<line x1="508.84" y1="527.08" x2="508.84" y2="537.36" stroke="#111" stroke-width="1" />
<line x1="507.24" y1="527.08" x2="510.44" y2="527.08" stroke="#111" stroke-width="1" />
<line x1="507.24" y1="537.36" x2="510.44" y2="537.36" stroke="#111" stroke-width="1" />
<circle cx="508.84" cy="532.22" r="1.5" fill="#111"/>
<line x1="584.05" y1="479.02" x2="584.05" y2="489.81" stroke="#111" stroke-width="1" />
<line x1="582.45" y1="479.02" x2="585.65" y2="479.02" stroke="#111" stroke-width="1" />
<line x1="582.45" y1="489.81" x2="585.65" y2="489.81" stroke="#111" stroke-width="1" />
<circle cx="584.05" cy="484.42" r="1.5" fill="#111"/>
<rect x="386.5" y="452.5" width="221" height="179" fill="none" stroke="#111" stroke-width="1.3"/>
<line x1="386.5" y1="451.8" x2="386.5" y2="632.2" stroke="#666" stroke-width="2" />
<line x1="383.5" y1="619.5" x2="386.5" y2="619.5" stroke="#111" stroke-width="1.2" />
<line x1="383.5" y1="593.5" x2="386.5" y2="593.5" stroke="#111" stroke-width="1.2" />
<line x1="383.5" y1="568.5" x2="386.5" y2="568.5" stroke="#111" stroke-width="1.2" />
<line x1="383.5" y1="542.5" x2="386.5" y2="542.5" stroke="#111" stroke-width="1.2" />
<line x1="383.5" y1="516.5" x2="386.5" y2="516.5" stroke="#111" stroke-width="1.2" />
<line x1="383.5" y1="491.5" x2="386.5" y2="491.5" stroke="#111" stroke-width="1.2" />
<line x1="383.5" y1="465.5" x2="386.5" y2="465.5" stroke="#111" stroke-width="1.2" />
<line x1="384.9" y1="606.5" x2="386.5" y2="606.5" stroke="#111" stroke-width="1.2" />
<line x1="384.9" y1="581.5" x2="386.5" y2="581.5" stroke="#111" stroke-width="1.2" />
<line x1="384.9" y1="555.5" x2="386.5" y2="555.5" stroke="#111" stroke-width="1.2" />
<line x1="384.9" y1="529.5" x2="386.5" y2="529.5" stroke="#111" stroke-width="1.2" />
<line x1="384.9" y1="503.5" x2="386.5" y2="503.5" stroke="#111" stroke-width="1.2" />
<line x1="384.9" y1="478.5" x2="386.5" y2="478.5" stroke="#111" stroke-width="1.2" />
<line x1="407.5" y1="631.5" x2="407.5" y2="634.5" stroke="#111" stroke-width="1.2" />
<line x1="460.5" y1="631.5" x2="460.5" y2="634.5" stroke="#111" stroke-width="1.2" />
<line x1="512.5" y1="631.5" x2="512.5" y2="634.5" stroke="#111" stroke-width="1.2" />
<line x1="564.5" y1="631.5" x2="564.5" y2="634.5" stroke="#111" stroke-width="1.2" />
<line x1="433.5" y1="631.5" x2="433.5" y2="633.1" stroke="#111" stroke-width="1.2" />
<line x1="486.5" y1="631.5" x2="486.5" y2="633.1" stroke="#111" stroke-width="1.2" />
<line x1="538.5" y1="631.5" x2="538.5" y2="633.1" stroke="#111" stroke-width="1.2" />
<line x1="590.5" y1="631.5" x2="590.5" y2="633.1" stroke="#111" stroke-width="1.2" />
<text x="381.5" y="623.2" font-size="10" text-anchor="end" font-weight="bold" font-family="'Liberation Sans', Arial, sans-serif" fill="#000" color="#000" >5</text>
<text x="381.5" y="597.5" font-size="10" text-anchor="end" font-weight="bold" font-family="'Liberation Sans', Arial, sans-serif" fill="#000" color="#000" >10</text>
<text x="381.5" y="571.8" font-size="10" text-anchor="end" font-weight="bold" font-family="'Liberation Sans', Arial, sans-serif" fill="#000" color="#000" >15</text>
<text x="381.5" y="546.1" font-size="10" text-anchor="end" font-weight="bold" font-family="'Liberation Sans', Arial, sans-serif" fill="#000" color="#000" >20</text>
<text x="381.5" y="520.4" font-size="10" text-anchor="end" font-weight="bold" font-family="'Liberation Sans', Arial, sans-serif" fill="#000" color="#000" >25</text>
<text x="381.5" y="494.7" font-size="10" text-anchor="end" font-weight="bold" font-family="'Liberation Sans', Arial, sans-serif" fill="#000" color="#000" >30</text>
<text x="381.5" y="469" font-size="10" text-anchor="end" font-weight="bold" font-family="'Liberation Sans', Arial, sans-serif" fill="#000" color="#000" >35</text>
<text x="407.8" y="646" font-size="10" text-anchor="middle" font-weight="bold" font-family="'Liberation Sans', Arial, sans-serif" fill="#000" color="#000" >1.5</text>
<text x="460.1" y="646" font-size="10" text-anchor="middle" font-weight="bold" font-family="'Liberation Sans', Arial, sans-serif" fill="#000" color="#000" >2.0</text>
<text x="512.4" y="646" font-size="10" text-anchor="middle" font-weight="bold" font-family="'Liberation Sans', Arial, sans-serif" fill="#000" color="#000" >2.5</text>
<text x="564.7" y="646" font-size="10" text-anchor="middle" font-weight="bold" font-family="'Liberation Sans', Arial, sans-serif" fill="#000" color="#000" >3.0</text>
<text x="498" y="658.3" font-size="14" text-anchor="middle" font-weight="bold" font-family="'Liberation Sans', Arial, sans-serif" fill="#000" color="#000" >Pressure (kPa)</text>
<text x="0" y="0" font-size="13.5" text-anchor="middle" font-weight="bold" font-family="'Liberation Sans', Arial, sans-serif" transform="translate(362,533.5) rotate(-90)">ΔI/I<tspan font-size="9" dy="3">o</tspan></text>
<text x="392" y="468" font-size="10.5" font-weight="bold" font-family="'Liberation Sans', Arial, sans-serif">Sensitivity ~14.06 kPa<tspan dy="-4.2" font-size="6.3">-1</tspan></text>
<text x="392" y="482.5" font-size="10.5" font-weight="bold" font-family="'Liberation Sans', Arial, sans-serif">Adj.R<tspan dy="-4.3" font-size="7">2</tspan><tspan dy="4.3"> ~ 0.9951</tspan></text>
<text x="10.5" y="678.6" font-size="26" text-anchor="start" font-weight="bold" font-family="'Liberation Serif', 'Times New Roman', serif" fill="#000" color="#000" class="nost">g)</text>
<rect x="66.2" y="793.3" width="231.5" height="68" fill="#000"/>
<rect x="66.5" y="681.5" width="232" height="188" fill="none" stroke="#111" stroke-width="1.3"/>
<line x1="63.5" y1="865.5" x2="66.5" y2="865.5" stroke="#111" stroke-width="1.2" />
<line x1="63.5" y1="824.5" x2="66.5" y2="824.5" stroke="#111" stroke-width="1.2" />
<line x1="63.5" y1="783.5" x2="66.5" y2="783.5" stroke="#111" stroke-width="1.2" />
<line x1="63.5" y1="742.5" x2="66.5" y2="742.5" stroke="#111" stroke-width="1.2" />
<line x1="63.5" y1="701.5" x2="66.5" y2="701.5" stroke="#111" stroke-width="1.2" />
<line x1="64.9" y1="844.5" x2="66.5" y2="844.5" stroke="#111" stroke-width="1.2" />
<line x1="64.9" y1="803.5" x2="66.5" y2="803.5" stroke="#111" stroke-width="1.2" />
<line x1="64.9" y1="762.5" x2="66.5" y2="762.5" stroke="#111" stroke-width="1.2" />
<line x1="64.9" y1="722.5" x2="66.5" y2="722.5" stroke="#111" stroke-width="1.2" />
<line x1="66.5" y1="869.5" x2="66.5" y2="872.5" stroke="#111" stroke-width="1.2" />
<line x1="119.5" y1="869.5" x2="119.5" y2="872.5" stroke="#111" stroke-width="1.2" />
<line x1="171.5" y1="869.5" x2="171.5" y2="872.5" stroke="#111" stroke-width="1.2" />
<line x1="224.5" y1="869.5" x2="224.5" y2="872.5" stroke="#111" stroke-width="1.2" />
<line x1="277.5" y1="869.5" x2="277.5" y2="872.5" stroke="#111" stroke-width="1.2" />
<line x1="92.5" y1="869.5" x2="92.5" y2="871.1" stroke="#111" stroke-width="1.2" />
<line x1="145.5" y1="869.5" x2="145.5" y2="871.1" stroke="#111" stroke-width="1.2" />
<line x1="198.5" y1="869.5" x2="198.5" y2="871.1" stroke="#111" stroke-width="1.2" />
<line x1="250.5" y1="869.5" x2="250.5" y2="871.1" stroke="#111" stroke-width="1.2" />
<text x="60.5" y="705.5" font-size="11" text-anchor="end" font-weight="bold" font-family="'Liberation Sans', Arial, sans-serif" fill="#000" color="#000">8.0×10<tspan dy="-4.62" font-size="6.82">-5</tspan></text>
<text x="60.5" y="746.4" font-size="11" text-anchor="end" font-weight="bold" font-family="'Liberation Sans', Arial, sans-serif" fill="#000" color="#000">6.0×10<tspan dy="-4.62" font-size="6.82">-5</tspan></text>
<text x="60.5" y="787.3" font-size="11" text-anchor="end" font-weight="bold" font-family="'Liberation Sans', Arial, sans-serif" fill="#000" color="#000">4.0×10<tspan dy="-4.62" font-size="6.82">-5</tspan></text>
<text x="60.5" y="828.2" font-size="11" text-anchor="end" font-weight="bold" font-family="'Liberation Sans', Arial, sans-serif" fill="#000" color="#000">2.0×10<tspan dy="-4.62" font-size="6.82">-5</tspan></text>
<text x="60.5" y="869.1" font-size="11" text-anchor="end" font-weight="bold" font-family="'Liberation Sans', Arial, sans-serif" fill="#000" color="#000" >0.0</text>
<text x="66.4" y="884.7" font-size="10.5" text-anchor="middle" font-weight="bold" font-family="'Liberation Sans', Arial, sans-serif" fill="#000" color="#000" >0</text>
<text x="119.1" y="884.7" font-size="10.5" text-anchor="middle" font-weight="bold" font-family="'Liberation Sans', Arial, sans-serif" fill="#000" color="#000" >2000</text>
<text x="171.8" y="884.7" font-size="10.5" text-anchor="middle" font-weight="bold" font-family="'Liberation Sans', Arial, sans-serif" fill="#000" color="#000" >4000</text>
<text x="224.5" y="884.7" font-size="10.5" text-anchor="middle" font-weight="bold" font-family="'Liberation Sans', Arial, sans-serif" fill="#000" color="#000" >6000</text>
<text x="277.2" y="884.7" font-size="10.5" text-anchor="middle" font-weight="bold" font-family="'Liberation Sans', Arial, sans-serif" fill="#000" color="#000" >8000</text>
<text x="181.6" y="898" font-size="14.6" text-anchor="middle" font-weight="bold" font-family="'Liberation Sans', Arial, sans-serif" fill="#000" color="#000" >Time (sec)</text>
<text x="0" y="0" font-size="14" text-anchor="middle" font-weight="bold" font-family="'Liberation Sans', Arial, sans-serif" transform="translate(13.8,779.3) rotate(-90)" >Current (A)</text>
<rect x="89.3" y="695.3" width="91.4" height="79.3" fill="#fff"/>
<path d="M89.9,766.6 L92,766.6 L92.5,765.4 L93,722.39 L93.9,708.2 L94.6,705.2 L95.2,707.2 L95.7,766 L96.1,766.6 L101.78,766.6 L102.28,765.4 L102.78,722.39 L103.68,708.2 L104.38,705.2 L104.98,707.2 L105.48,766 L105.88,766.6 L111.56,766.6 L112.06,765.4 L112.56,722.39 L113.46,708.2 L114.16,705.2 L114.76,707.2 L115.26,766 L115.66,766.6 L121.34,766.6 L121.84,765.4 L122.34,722.39 L123.24,708.2 L123.94,705.2 L124.54,707.2 L125.04,766 L125.44,766.6 L131.12,766.6 L131.62,765.4 L132.12,722.39 L133.02,708.2 L133.72,705.2 L134.32,707.2 L134.82,766 L135.22,766.6 L140.9,766.6 L141.4,765.4 L141.9,722.39 L142.8,708.2 L143.5,705.2 L144.1,707.2 L144.6,766 L145,766.6 L150.68,766.6 L151.18,765.4 L151.68,722.39 L152.58,708.2 L153.28,705.2 L153.88,707.2 L154.38,766 L154.78,766.6 L160.46,766.6 L160.96,765.4 L161.46,722.39 L162.36,708.2 L163.06,705.2 L163.66,707.2 L164.16,766 L164.56,766.6 L170.24,766.6 L170.74,765.4 L171.24,722.39 L172.14,708.2 L172.84,705.2 L173.44,707.2 L173.94,766 L174.34,766.6 L180.1,766.6" fill="none" stroke="#a0a0a0" stroke-width="1.4" stroke-linejoin="round"/>
<path d="M89.9,766.6 L92,766.6 L92.5,765.4 L93,722.39 L93.9,708.2 L94.6,705.2 L95.2,707.2 L95.7,766 L96.1,766.6 L101.78,766.6 L102.28,765.4 L102.78,722.39 L103.68,708.2 L104.38,705.2 L104.98,707.2 L105.48,766 L105.88,766.6 L111.56,766.6 L112.06,765.4 L112.56,722.39 L113.46,708.2 L114.16,705.2 L114.76,707.2 L115.26,766 L115.66,766.6 L121.34,766.6 L121.84,765.4 L122.34,722.39 L123.24,708.2 L123.94,705.2 L124.54,707.2 L125.04,766 L125.44,766.6 L131.12,766.6 L131.62,765.4 L132.12,722.39 L133.02,708.2 L133.72,705.2 L134.32,707.2 L134.82,766 L135.22,766.6 L140.9,766.6 L141.4,765.4 L141.9,722.39 L142.8,708.2 L143.5,705.2 L144.1,707.2 L144.6,766 L145,766.6 L150.68,766.6 L151.18,765.4 L151.68,722.39 L152.58,708.2 L153.28,705.2 L153.88,707.2 L154.38,766 L154.78,766.6 L160.46,766.6 L160.96,765.4 L161.46,722.39 L162.36,708.2 L163.06,705.2 L163.66,707.2 L164.16,766 L164.56,766.6 L170.24,766.6 L170.74,765.4 L171.24,722.39 L172.14,708.2 L172.84,705.2 L173.44,707.2 L173.94,766 L174.34,766.6 L180.1,766.6" fill="none" stroke="#2a2a2a" stroke-width="0.65" stroke-linejoin="round"/>
<rect x="89.3" y="695.3" width="91.4" height="79.3" fill="none" stroke="#9a9a9a" stroke-width="1"/>
<line x1="88" y1="770.5" x2="89.3" y2="770.5" stroke="#777" stroke-width="0.6" />
<text x="86.1" y="772" font-size="4.2" text-anchor="end" font-weight="normal" font-family="'Liberation Sans', Arial, sans-serif" fill="#333" color="#333" class="nost">0</text>
<line x1="88" y1="751.67" x2="89.3" y2="751.67" stroke="#777" stroke-width="0.6" />
<text class="nost" x="87.5" y="753.17" font-size="4" text-anchor="end" font-family="'Liberation Sans', Arial, sans-serif" fill="#333">1×10<tspan dy="-1.6" font-size="2.6">-5</tspan></text>
<line x1="88" y1="732.85" x2="89.3" y2="732.85" stroke="#777" stroke-width="0.6" />
<text class="nost" x="87.5" y="734.35" font-size="4" text-anchor="end" font-family="'Liberation Sans', Arial, sans-serif" fill="#333">2×10<tspan dy="-1.6" font-size="2.6">-5</tspan></text>
<line x1="88" y1="714.03" x2="89.3" y2="714.03" stroke="#777" stroke-width="0.6" />
<text class="nost" x="87.5" y="715.53" font-size="4" text-anchor="end" font-family="'Liberation Sans', Arial, sans-serif" fill="#333">3×10<tspan dy="-1.6" font-size="2.6">-5</tspan></text>
<line x1="88" y1="695.2" x2="89.3" y2="695.2" stroke="#777" stroke-width="0.6" />
<text class="nost" x="87.5" y="696.7" font-size="4" text-anchor="end" font-family="'Liberation Sans', Arial, sans-serif" fill="#333">4×10<tspan dy="-1.6" font-size="2.6">-5</tspan></text>
<line x1="89.8" y1="774.6" x2="89.8" y2="773.3" stroke="#777" stroke-width="0.6" />
<text x="89.8" y="781" font-size="4.2" text-anchor="middle" font-weight="normal" font-family="'Liberation Sans', Arial, sans-serif" fill="#333" color="#333" class="nost">0</text>
<line x1="112.3" y1="774.6" x2="112.3" y2="773.3" stroke="#777" stroke-width="0.6" />
<text x="112.3" y="781" font-size="4.2" text-anchor="middle" font-weight="normal" font-family="'Liberation Sans', Arial, sans-serif" fill="#333" color="#333" class="nost">10</text>
<line x1="134.8" y1="774.6" x2="134.8" y2="773.3" stroke="#777" stroke-width="0.6" />
<text x="134.8" y="781" font-size="4.2" text-anchor="middle" font-weight="normal" font-family="'Liberation Sans', Arial, sans-serif" fill="#333" color="#333" class="nost">20</text>
<line x1="157.3" y1="774.6" x2="157.3" y2="773.3" stroke="#777" stroke-width="0.6" />
<text x="157.3" y="781" font-size="4.2" text-anchor="middle" font-weight="normal" font-family="'Liberation Sans', Arial, sans-serif" fill="#333" color="#333" class="nost">30</text>
<line x1="179.8" y1="774.6" x2="179.8" y2="773.3" stroke="#777" stroke-width="0.6" />
<text x="179.8" y="781" font-size="4.2" text-anchor="middle" font-weight="normal" font-family="'Liberation Sans', Arial, sans-serif" fill="#333" color="#333" class="nost">40</text>
<text x="0" y="0" font-size="5.6" text-anchor="middle" font-weight="bold" font-family="'Liberation Sans', Arial, sans-serif" fill="#222" transform="translate(72,732) rotate(-90)">Current (A)</text>
<text x="137" y="786" font-size="6.0" text-anchor="middle" font-weight="bold" font-family="'Liberation Sans', Arial, sans-serif" fill="#333" color="#333" >Time (sec)</text>
<rect x="209.8" y="699.5" width="82.1" height="71.7" fill="#fff"/>
<path d="M210.4,763.8 L213.7,763.8 L214.2,762.6 L214.7,723.77 L215.6,711.2 L216.3,708.2 L216.9,710.2 L217.4,763.2 L217.8,763.8 L221.89,763.8 L222.39,762.6 L222.89,723.77 L223.79,711.2 L224.49,708.2 L225.09,710.2 L225.59,763.2 L225.99,763.8 L230.08,763.8 L230.58,762.6 L231.08,723.77 L231.98,711.2 L232.68,708.2 L233.28,710.2 L233.78,763.2 L234.18,763.8 L238.27,763.8 L238.77,762.6 L239.27,723.77 L240.17,711.2 L240.87,708.2 L241.47,710.2 L241.97,763.2 L242.37,763.8 L246.46,763.8 L246.96,762.6 L247.46,723.77 L248.36,711.2 L249.06,708.2 L249.66,710.2 L250.16,763.2 L250.56,763.8 L254.65,763.8 L255.15,762.6 L255.65,723.77 L256.55,711.2 L257.25,708.2 L257.85,710.2 L258.35,763.2 L258.75,763.8 L262.84,763.8 L263.34,762.6 L263.84,723.77 L264.74,711.2 L265.44,708.2 L266.04,710.2 L266.54,763.2 L266.94,763.8 L271.03,763.8 L271.53,762.6 L272.03,723.77 L272.93,711.2 L273.63,708.2 L274.23,710.2 L274.73,763.2 L275.13,763.8 L279.22,763.8 L279.72,762.6 L280.22,723.77 L281.12,711.2 L281.82,708.2 L282.42,710.2 L282.92,763.2 L283.32,763.8 L287.41,763.8 L287.91,762.6 L288.41,723.77 L289.31,711.2 L290.01,708.2 L290.61,710.2 L291.11,763.2 L291.51,763.8 L291.3,763.8" fill="none" stroke="#a0a0a0" stroke-width="1.4" stroke-linejoin="round"/>
<path d="M210.4,763.8 L213.7,763.8 L214.2,762.6 L214.7,723.77 L215.6,711.2 L216.3,708.2 L216.9,710.2 L217.4,763.2 L217.8,763.8 L221.89,763.8 L222.39,762.6 L222.89,723.77 L223.79,711.2 L224.49,708.2 L225.09,710.2 L225.59,763.2 L225.99,763.8 L230.08,763.8 L230.58,762.6 L231.08,723.77 L231.98,711.2 L232.68,708.2 L233.28,710.2 L233.78,763.2 L234.18,763.8 L238.27,763.8 L238.77,762.6 L239.27,723.77 L240.17,711.2 L240.87,708.2 L241.47,710.2 L241.97,763.2 L242.37,763.8 L246.46,763.8 L246.96,762.6 L247.46,723.77 L248.36,711.2 L249.06,708.2 L249.66,710.2 L250.16,763.2 L250.56,763.8 L254.65,763.8 L255.15,762.6 L255.65,723.77 L256.55,711.2 L257.25,708.2 L257.85,710.2 L258.35,763.2 L258.75,763.8 L262.84,763.8 L263.34,762.6 L263.84,723.77 L264.74,711.2 L265.44,708.2 L266.04,710.2 L266.54,763.2 L266.94,763.8 L271.03,763.8 L271.53,762.6 L272.03,723.77 L272.93,711.2 L273.63,708.2 L274.23,710.2 L274.73,763.2 L275.13,763.8 L279.22,763.8 L279.72,762.6 L280.22,723.77 L281.12,711.2 L281.82,708.2 L282.42,710.2 L282.92,763.2 L283.32,763.8 L287.41,763.8 L287.91,762.6 L288.41,723.77 L289.31,711.2 L290.01,708.2 L290.61,710.2 L291.11,763.2 L291.51,763.8 L291.3,763.8" fill="none" stroke="#2a2a2a" stroke-width="0.65" stroke-linejoin="round"/>
<rect x="209.8" y="699.5" width="82.1" height="71.7" fill="none" stroke="#9a9a9a" stroke-width="1"/>
<line x1="208.5" y1="766.8" x2="209.8" y2="766.8" stroke="#777" stroke-width="0.6" />
<text x="206.6" y="768.3" font-size="4.2" text-anchor="end" font-weight="normal" font-family="'Liberation Sans', Arial, sans-serif" fill="#333" color="#333" class="nost">0</text>
<line x1="208.5" y1="750.1" x2="209.8" y2="750.1" stroke="#777" stroke-width="0.6" />
<text class="nost" x="208" y="751.6" font-size="4" text-anchor="end" font-family="'Liberation Sans', Arial, sans-serif" fill="#333">1×10<tspan dy="-1.6" font-size="2.6">-5</tspan></text>
<line x1="208.5" y1="733.4" x2="209.8" y2="733.4" stroke="#777" stroke-width="0.6" />
<text class="nost" x="208" y="734.9" font-size="4" text-anchor="end" font-family="'Liberation Sans', Arial, sans-serif" fill="#333">2×10<tspan dy="-1.6" font-size="2.6">-5</tspan></text>
<line x1="208.5" y1="716.7" x2="209.8" y2="716.7" stroke="#777" stroke-width="0.6" />
<text class="nost" x="208" y="718.2" font-size="4" text-anchor="end" font-family="'Liberation Sans', Arial, sans-serif" fill="#333">3×10<tspan dy="-1.6" font-size="2.6">-5</tspan></text>
<line x1="208.5" y1="700" x2="209.8" y2="700" stroke="#777" stroke-width="0.6" />
<text class="nost" x="208" y="701.5" font-size="4" text-anchor="end" font-family="'Liberation Sans', Arial, sans-serif" fill="#333">4×10<tspan dy="-1.6" font-size="2.6">-5</tspan></text>
<line x1="209.9" y1="771.2" x2="209.9" y2="769.9" stroke="#777" stroke-width="0.6" />
<text x="209.9" y="777" font-size="4.2" text-anchor="middle" font-weight="normal" font-family="'Liberation Sans', Arial, sans-serif" fill="#333" color="#333" class="nost">4000</text>
<line x1="230.3" y1="771.2" x2="230.3" y2="769.9" stroke="#777" stroke-width="0.6" />
<text x="230.3" y="777" font-size="4.2" text-anchor="middle" font-weight="normal" font-family="'Liberation Sans', Arial, sans-serif" fill="#333" color="#333" class="nost">4010</text>
<line x1="250.7" y1="771.2" x2="250.7" y2="769.9" stroke="#777" stroke-width="0.6" />
<text x="250.7" y="777" font-size="4.2" text-anchor="middle" font-weight="normal" font-family="'Liberation Sans', Arial, sans-serif" fill="#333" color="#333" class="nost">4020</text>
<line x1="271.1" y1="771.2" x2="271.1" y2="769.9" stroke="#777" stroke-width="0.6" />
<text x="271.1" y="777" font-size="4.2" text-anchor="middle" font-weight="normal" font-family="'Liberation Sans', Arial, sans-serif" fill="#333" color="#333" class="nost">4030</text>
<line x1="291.5" y1="771.2" x2="291.5" y2="769.9" stroke="#777" stroke-width="0.6" />
<text x="291.5" y="777" font-size="4.2" text-anchor="middle" font-weight="normal" font-family="'Liberation Sans', Arial, sans-serif" fill="#333" color="#333" class="nost">4040</text>
<text x="0" y="0" font-size="5.6" text-anchor="middle" font-weight="bold" font-family="'Liberation Sans', Arial, sans-serif" fill="#222" transform="translate(194,732.6) rotate(-90)">Current (A)</text>
<text x="252.5" y="781.5" font-size="6.0" text-anchor="middle" font-weight="bold" font-family="'Liberation Sans', Arial, sans-serif" fill="#333" color="#333" >Time (sec)</text>
<text x="241.4" y="692" font-size="8.7" text-anchor="middle" font-weight="bold" font-family="'Liberation Sans', Arial, sans-serif" fill="#000" color="#000" >Stability ~ 5000 cycles</text>
<line x1="66.7" y1="793.3" x2="81.59" y2="781.52" stroke="#f01818" stroke-width="1.2" />
<polygon points="86.3,777.8 82.83,783.09 80.35,779.95" fill="#f01818"/>
<line x1="186.6" y1="792.5" x2="198.24" y2="778.99" stroke="#f01818" stroke-width="1.2" />
<polygon points="201.5,775.2 199.9,780.42 196.57,777.55" fill="#f01818"/>
<text x="308" y="685.6" font-size="26" text-anchor="start" font-weight="bold" font-family="'Liberation Serif', 'Times New Roman', serif" fill="#000" color="#000" class="nost">h)</text>
<rect x="466.9" y="753.9" width="27.3" height="69" fill="#f2e7cb"/>
<rect x="518.1" y="754.8" width="27.8" height="69" fill="#f2e7cb"/>
<path d="M390.6,831.6 L471.4,831.8 L477.6,827.6 L484.4,753.4 C489,748.5 493,747 497.2,746.7 L512.4,746.8 C518,746.8 524,747.5 528.4,750.8 L534.7,804.2 L540.9,831.6 L613.3,831.3" fill="none" stroke="#222" stroke-width="1.15" stroke-linejoin="round"/>
<rect x="390.5" y="682.5" width="223" height="182" fill="none" stroke="#111" stroke-width="1.3"/>
<line x1="390.5" y1="681.8" x2="390.5" y2="865.2" stroke="#747474" stroke-width="2" />
<line x1="387.5" y1="839.5" x2="390.5" y2="839.5" stroke="#111" stroke-width="1.2" />
<line x1="387.5" y1="808.5" x2="390.5" y2="808.5" stroke="#111" stroke-width="1.2" />
<line x1="387.5" y1="777.5" x2="390.5" y2="777.5" stroke="#111" stroke-width="1.2" />
<line x1="387.5" y1="745.5" x2="390.5" y2="745.5" stroke="#111" stroke-width="1.2" />
<line x1="387.5" y1="714.5" x2="390.5" y2="714.5" stroke="#111" stroke-width="1.2" />
<line x1="387.5" y1="683.5" x2="390.5" y2="683.5" stroke="#111" stroke-width="1.2" />
<line x1="388.9" y1="855.5" x2="390.5" y2="855.5" stroke="#111" stroke-width="1.2" />
<line x1="388.9" y1="823.5" x2="390.5" y2="823.5" stroke="#111" stroke-width="1.2" />
<line x1="388.9" y1="792.5" x2="390.5" y2="792.5" stroke="#111" stroke-width="1.2" />
<line x1="388.9" y1="761.5" x2="390.5" y2="761.5" stroke="#111" stroke-width="1.2" />
<line x1="388.9" y1="730.5" x2="390.5" y2="730.5" stroke="#111" stroke-width="1.2" />
<line x1="388.9" y1="698.5" x2="390.5" y2="698.5" stroke="#111" stroke-width="1.2" />
<line x1="390.5" y1="864.5" x2="390.5" y2="867.5" stroke="#111" stroke-width="1.2" />
<line x1="442.5" y1="864.5" x2="442.5" y2="867.5" stroke="#111" stroke-width="1.2" />
<line x1="494.5" y1="864.5" x2="494.5" y2="867.5" stroke="#111" stroke-width="1.2" />
<line x1="546.5" y1="864.5" x2="546.5" y2="867.5" stroke="#111" stroke-width="1.2" />
<line x1="598.5" y1="864.5" x2="598.5" y2="867.5" stroke="#111" stroke-width="1.2" />
<line x1="416.5" y1="864.5" x2="416.5" y2="866.1" stroke="#111" stroke-width="1.2" />
<line x1="468.5" y1="864.5" x2="468.5" y2="866.1" stroke="#111" stroke-width="1.2" />
<line x1="520.5" y1="864.5" x2="520.5" y2="866.1" stroke="#111" stroke-width="1.2" />
<line x1="572.5" y1="864.5" x2="572.5" y2="866.1" stroke="#111" stroke-width="1.2" />
<text x="385.5" y="686.7" font-size="10.6" text-anchor="end" font-weight="bold" font-family="'Liberation Sans', Arial, sans-serif" fill="#000" color="#000">2.5×10<tspan dy="-4.45" font-size="6.57">-5</tspan></text>
<text x="385.5" y="718" font-size="10.6" text-anchor="end" font-weight="bold" font-family="'Liberation Sans', Arial, sans-serif" fill="#000" color="#000">2.0×10<tspan dy="-4.45" font-size="6.57">-5</tspan></text>
<text x="385.5" y="749.3" font-size="10.6" text-anchor="end" font-weight="bold" font-family="'Liberation Sans', Arial, sans-serif" fill="#000" color="#000">1.5×10<tspan dy="-4.45" font-size="6.57">-5</tspan></text>
<text x="385.5" y="780.6" font-size="10.6" text-anchor="end" font-weight="bold" font-family="'Liberation Sans', Arial, sans-serif" fill="#000" color="#000">1.0×10<tspan dy="-4.45" font-size="6.57">-5</tspan></text>
<text x="385.5" y="811.9" font-size="10.6" text-anchor="end" font-weight="bold" font-family="'Liberation Sans', Arial, sans-serif" fill="#000" color="#000">5.0×10<tspan dy="-4.45" font-size="6.57">-6</tspan></text>
<text x="385.5" y="843.3" font-size="10.6" text-anchor="end" font-weight="bold" font-family="'Liberation Sans', Arial, sans-serif" fill="#000" color="#000" >0.0</text>
<text x="390.2" y="879" font-size="10.5" text-anchor="middle" font-weight="bold" font-family="'Liberation Sans', Arial, sans-serif" fill="#000" color="#000" >0</text>
<text x="442.3" y="879" font-size="10.5" text-anchor="middle" font-weight="bold" font-family="'Liberation Sans', Arial, sans-serif" fill="#000" color="#000" >1</text>
<text x="494.4" y="879" font-size="10.5" text-anchor="middle" font-weight="bold" font-family="'Liberation Sans', Arial, sans-serif" fill="#000" color="#000" >2</text>
<text x="546.5" y="879" font-size="10.5" text-anchor="middle" font-weight="bold" font-family="'Liberation Sans', Arial, sans-serif" fill="#000" color="#000" >3</text>
<text x="598.6" y="879" font-size="10.5" text-anchor="middle" font-weight="bold" font-family="'Liberation Sans', Arial, sans-serif" fill="#000" color="#000" >4</text>
<text x="509.4" y="892" font-size="14" text-anchor="middle" font-weight="bold" font-family="'Liberation Sans', Arial, sans-serif" fill="#000" color="#000" >Time (sec)</text>
<text x="0" y="0" font-size="14" text-anchor="middle" font-weight="bold" font-family="'Liberation Sans', Arial, sans-serif" transform="translate(341,766.5) rotate(-90)" >Current (A)</text>
<text x="397.3" y="694" font-size="8.2" text-anchor="start" font-weight="bold" font-family="'Liberation Sans', Arial, sans-serif" fill="#000" color="#000" >Pressure applied&#160; ~1.477 kPa</text>
<text x="434" y="723" font-size="8.2" text-anchor="start" font-weight="bold" font-family="'Liberation Sans', Arial, sans-serif" fill="#000" color="#000" >Response Time = ~95 msec</text>
<text x="491.1" y="862" font-size="8.2" text-anchor="start" font-weight="bold" font-family="'Liberation Sans', Arial, sans-serif" fill="#000" color="#000" >Recovery Time = ~182 msec</text>
<line x1="477" y1="752.5" x2="468.71" y2="731.42" stroke="#f01818" stroke-width="1.3" />
<polygon points="466.7,726.3 470.85,730.58 466.57,732.26" fill="#f01818"/>
<line x1="531.1" y1="825" x2="519.03" y2="849.56" stroke="#f01818" stroke-width="1.3" />
<polygon points="516.6,854.5 516.96,848.55 521.09,850.58" fill="#f01818"/>
</svg></body></html>
